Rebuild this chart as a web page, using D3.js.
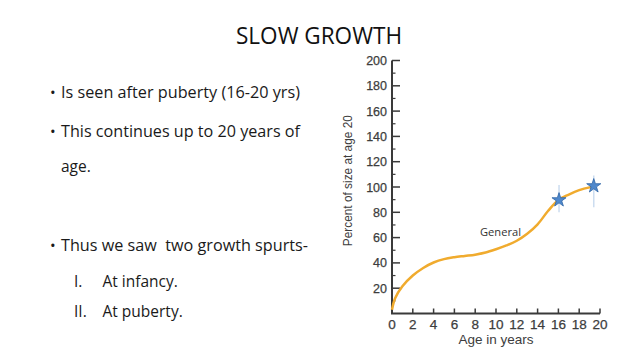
<!DOCTYPE html>
<html><head><meta charset="utf-8">
<script src="https://cdn.jsdelivr.net/npm/d3@7"></script>
<style>html,body{margin:0;padding:0;background:#fff;}svg{display:block;}text{white-space:pre;}</style>
</head><body>
<script>
const title = "SLOW GROWTH";
const bullets = ["Is seen after puberty (16-20 yrs)", "This continues up to 20 years of", "age.", "Thus we saw  two growth spurts-"];
const subItems = [["I.", "At infancy."], ["II.", "At puberty."]];
const ages =     [0, 0.3, 1, 2, 3, 4, 5, 6, 7, 8, 9, 10, 11, 12, 13, 14, 15, 16, 17, 18, 19, 19.5];
const percents = [3, 12, 21.5, 30, 36, 40.3, 43, 44.5, 45.5, 46.5, 48.2, 50.8, 53.8, 57.5, 63, 70.5, 81, 89.7, 94, 97.5, 99.7, 100.3];
const starAges = [16.06, 19.4];
const starPercents = [89.7, 100.8];
const xTicks = [0,2,4,6,8,10,12,14,16,18,20];
const yTicks = [20,40,60,80,100,120,140,160,180,200];
const yMinor = [10,30,50,70,90,110,130,150,170,190];
const curveLabel = "General";
const xLabel = "Age in years";
const yLabel = "Percent of size at age 20";

const W = 638, H = 359;
const svg = d3.select("body").append("svg").attr("width", W).attr("height", H);

// Title
svg.append("text").attr("x", 319).attr("y", 44).attr("text-anchor","middle")
  .attr("font-family","Open Sans").attr("font-size",23).attr("fill","#111")
  .attr("textLength",166).attr("lengthAdjust","spacingAndGlyphs").text(title);

// Bullets
const tf = "Open Sans", tc = "#1a1a1a";
const bY = [97.5, 136.5, 171.5, 251];
const bW = [239, 239, null, 247];
bullets.forEach((t,i)=>{
  if (i !== 2) svg.append("text").attr("x",50).attr("y",bY[i]).attr("font-family",tf).attr("font-size",15).attr("fill",tc).text("•");
  const tx = svg.append("text").attr("x",61).attr("y",bY[i]).attr("font-family",tf).attr("font-size",15.5).attr("fill",tc).text(t);
  if (bW[i]) tx.attr("textLength",bW[i]).attr("lengthAdjust","spacingAndGlyphs");
});
const sY = [287, 316.5];
subItems.forEach((s,i)=>{
  svg.append("text").attr("x",74).attr("y",sY[i]).attr("font-family",tf).attr("font-size",15.5).attr("fill",tc).text(s[0]);
  svg.append("text").attr("x",102.5).attr("y",sY[i]).attr("font-family",tf).attr("font-size",15.5).attr("fill",tc).text(s[1]);
});

// Chart
const x = d3.scaleLinear().domain([0,20]).range([392,600]);
const y = d3.scaleLinear().domain([0,200]).range([313.5,60.5]);
const axisColor = "#3a3a3a";
const lblColor = "#3d3d3d";
const g = svg.append("g");

g.append("line").attr("x1",x(0)).attr("x2",x(0)).attr("y1",y(0)).attr("y2",y(200)).attr("stroke",axisColor).attr("stroke-width",2);
g.append("line").attr("x1",x(0)-1).attr("x2",x(20)).attr("y1",y(0)).attr("y2",y(0)).attr("stroke",axisColor).attr("stroke-width",2);

yTicks.forEach(v=>{
  g.append("line").attr("x1",x(0)).attr("x2",x(0)+8).attr("y1",y(v)).attr("y2",y(v)).attr("stroke",axisColor).attr("stroke-width",1.5);
  g.append("text").attr("x",x(0)-5).attr("y",y(v)+4.5).attr("text-anchor","end")
    .attr("font-family","Liberation Sans").attr("font-size",12.5).attr("fill",lblColor)
    .attr("stroke",lblColor).attr("stroke-width",0.25).text(v);
});
yMinor.forEach(v=>{
  g.append("line").attr("x1",x(0)).attr("x2",x(0)+3.5).attr("y1",y(v)).attr("y2",y(v)).attr("stroke",axisColor).attr("stroke-width",1.2);
});
xTicks.forEach(v=>{
  if (v>0) g.append("line").attr("x1",x(v)).attr("x2",x(v)).attr("y1",y(0)).attr("y2",y(0)-5).attr("stroke",axisColor).attr("stroke-width",1.5);
  g.append("text").attr("x",x(v)).attr("y",y(0)+15.5).attr("text-anchor","middle")
    .attr("font-family","Liberation Sans").attr("font-size",13.5).attr("fill",lblColor)
    .attr("stroke",lblColor).attr("stroke-width",0.25).text(v);
});

g.append("text").attr("x",x(10)).attr("y",344).attr("text-anchor","middle")
  .attr("font-family","Liberation Sans").attr("font-size",13.5).attr("fill",lblColor).text(xLabel);
g.append("text").attr("transform",`translate(352,${y(105)}) rotate(-90)`).attr("text-anchor","middle")
  .attr("font-family","Liberation Sans").attr("font-size",13.5).attr("fill",lblColor)
  .attr("textLength",131).attr("lengthAdjust","spacingAndGlyphs").text(yLabel);

// curve
const pts = ages.map((a,i)=>[a,percents[i]]);
g.append("path").datum(pts)
  .attr("d", d3.line().x(d=>x(d[0])).y(d=>y(d[1])).curve(d3.curveCatmullRom.alpha(0.5)))
  .attr("fill","none").attr("stroke","#f0ab2e").attr("stroke-width",2.5);

g.append("text").attr("x",480).attr("y",235.7).attr("font-family","Open Sans").attr("font-size",11).attr("fill","#333")
  .attr("textLength",41).attr("lengthAdjust","spacingAndGlyphs").text(curveLabel);

// stars
const star = d3.symbol().type(d3.symbolStar).size(62);
const errTop = [101.6, 109], errBot = [80, 84];
starAges.forEach((a,i)=>{
  g.append("line").attr("x1",x(a)).attr("x2",x(a)).attr("y1",y(errTop[i])).attr("y2",y(errBot[i]))
    .attr("stroke","#6f9fd6").attr("stroke-width",1.5).attr("opacity",0.35);
  g.append("path").attr("d",star).attr("transform",`translate(${x(a)},${y(starPercents[i])})`)
    .attr("fill","#4f88cc").attr("stroke","#2f64a6").attr("stroke-width",0.8);
});
</script>
</body></html>
